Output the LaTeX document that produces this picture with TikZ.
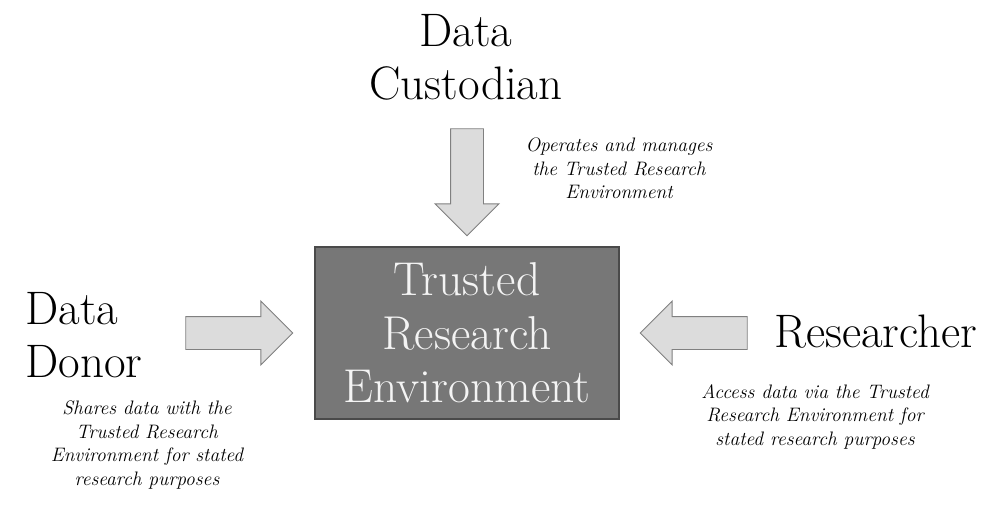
\documentclass[tikz,border=0pt]{standalone}
\usetikzlibrary{shapes.arrows}

\definecolor{arrowfill}{HTML}{DCDCDC}
\definecolor{arrowline}{HTML}{808080}
\definecolor{trefill}{HTML}{777777}
\definecolor{treline}{HTML}{4A4A4A}
\definecolor{tretext}{HTML}{F4F4F4}

\begin{document}
\begin{tikzpicture}[x=1pt, y=-1pt,
  actor/.style={font=\fontsize{47}{53}\selectfont, inner sep=0pt},
  remark/.style={font=\fontsize{19.5}{23.5}\selectfont\itshape, align=center,
    inner sep=0pt, anchor=north},
  blockarrow/.style={single arrow, draw=arrowline, fill=arrowfill, line width=0.9pt,
    minimum height=107, minimum width=63, single arrow head extend=15.5,
    single arrow tip angle=90, inner sep=16pt, anchor=tip}]
  \useasboundingbox (0,0) rectangle (1000,504);
  % The environment in the middle.
  \node[draw=treline, fill=trefill, line width=1.2pt, minimum width=304,
    minimum height=172, text=tretext, align=center, inner sep=0pt,
    font=\fontsize{47.5}{53.5}\selectfont] (tre) at (467,333)
    {Trusted\\Research\\Environment};
  % The three parties round it.
  \node[actor, align=center, anchor=north]   (custodian)  at (466,14)  {Data\\Custodian};
  \node[actor, align=left, anchor=north west] (donor)     at (25,292)  {Data\\Donor};
  \node[actor, anchor=base west]             (researcher) at (774,347) {Researcher};
  % Block arrows into the box.
  \node[blockarrow, shape border rotate=270] (custodianarrow) at ([yshift=10]tre.north) {};
  \node[blockarrow]                          (donorarrow)     at ([xshift=-21]tre.west) {};
  \node[blockarrow, shape border rotate=180] (researcherarrow) at ([xshift=20]tre.east) {};
  % What each party does.
  \node[remark] (custodiannote)  at (619,138) {Operates and manages\\the Trusted Research\\Environment};
  \node[remark] (donornote)      at (147,401) {Shares data with the\\Trusted Research\\Environment for stated\\research purposes};
  \node[remark] (researchernote) at (815,384) {Access data via the Trusted\\Research Environment for\\stated research purposes};
\end{tikzpicture}
\end{document}
